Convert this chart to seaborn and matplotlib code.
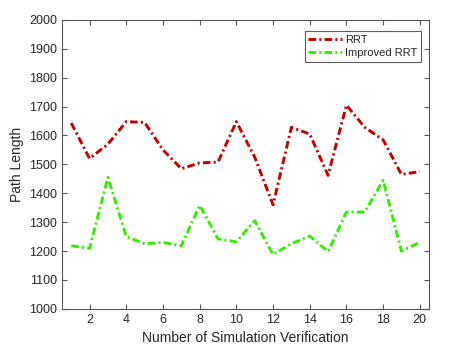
import numpy as np
import pandas as pd
import matplotlib
matplotlib.use('Agg')
import matplotlib.pyplot as plt
import seaborn as sns

runs = list(range(1, 21))
rrt = [1643, 1520, 1570, 1648, 1645, 1550, 1485, 1505, 1508, 1648,
       1525, 1360, 1628, 1605, 1462, 1705, 1628, 1585, 1465, 1475]
improved_rrt = [1218, 1210, 1455, 1250, 1225, 1230, 1218, 1358, 1242, 1232,
                1305, 1188, 1225, 1252, 1198, 1335, 1335, 1445, 1200, 1230]

df = pd.DataFrame({
    'run': runs * 2,
    'length': rrt + improved_rrt,
    'method': ['RRT'] * 20 + ['Improved RRT'] * 20,
})

sns.set_style('white')
plt.rcParams['font.family'] = ['Liberation Sans', 'DejaVu Sans']

fig = plt.figure(figsize=(4.74, 3.55), dpi=100)
ax = fig.add_axes([0.131, 0.130, 0.774, 0.814])

palette = {'RRT': '#c00000', 'Improved RRT': '#33ee00'}
sns.lineplot(data=df, x='run', y='length', hue='method', palette=palette,
             linewidth=2.1, ax=ax)
dash = [2.6, 1.1, 0.7, 1.1]
for line in ax.get_lines():
    line.set_dashes(dash)

ax.set_xlim(0.5, 20.5)
ax.set_ylim(1000, 2000)
ax.set_xticks(range(2, 21, 2))
ax.set_yticks(range(1000, 2001, 100))
ax.set_xlabel('Number of Simulation Verification', fontsize=10)
ax.set_ylabel('Path Length', fontsize=10)
ax.tick_params(direction='in', bottom=True, left=True, top=True, right=True,
               labelsize=9, length=3.5, width=0.8, color='#555555')
for s in ax.spines.values():
    s.set_color('#555555')
    s.set_linewidth(0.8)

leg = ax.legend(loc='upper right', bbox_to_anchor=(0.985, 0.97), fontsize=8,
                frameon=True, fancybox=False, handlelength=3.0, borderpad=0.35,
                labelspacing=0.3, handletextpad=0.3, borderaxespad=0.2)
leg.get_frame().set_edgecolor('#333333')
leg.get_frame().set_linewidth(0.8)
for h in leg.get_lines():
    h.set_dashes(dash)

fig.savefig('out.png', dpi=100)
